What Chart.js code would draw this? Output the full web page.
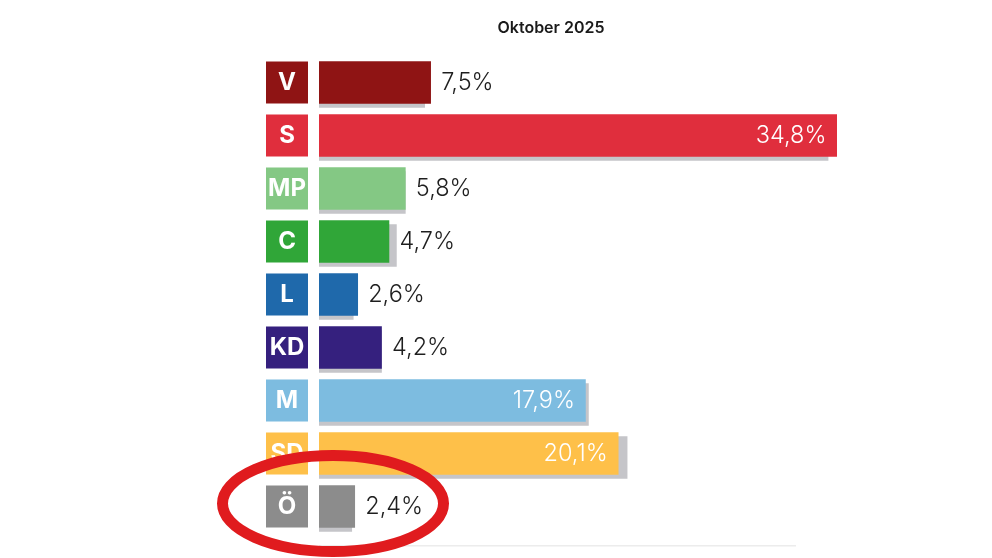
<!DOCTYPE html>
<html lang="sv">
<head>
<meta charset="utf-8">
<style>html,body{margin:0;padding:0;background:#fff}#w{width:992px;height:558px;position:relative}</style>
<script src="https://cdn.jsdelivr.net/npm/chart.js@4"></script>
</head>
<body>
<div id="w"><canvas id="c"></canvas></div>
<script>
const titleText = "Oktober 2025";
const parties = ["V","S","MP","C","L","KD","M","SD","Ö"];
const currentValues = [7.5,34.8,5.8,4.7,2.6,4.2,17.9,20.1,2.4];
const previousValues = [7.1,34.2,5.8,5.2,2.3,4.2,18.1,20.7,2.2];
const partyColors = ["#8f1414","#e02e3d","#84c884","#30a638","#1f69ab","#35207e","#7dbce0","#fec049","#8c8c8c"];
const shadowColor = "#c5c5c9";
const insideThreshold = 10;

const fmt = v => v.toFixed(1).replace(".", ",") + "%";

const decor = {
  id: "decor",
  beforeDraw(chart) {
    const {ctx, scales:{y}} = chart;
    ctx.save();
    parties.forEach((p,i) => {
      ctx.fillStyle = partyColors[i];
      ctx.fillRect(266, y.getPixelForValue(i) - 21, 42, 42);
    });
    ctx.restore();
  },
  beforeDatasetDraw(chart, args) {
    if (args.index === 1) { chart.ctx.save(); chart.ctx.translate(0, 4); }
  },
  afterDatasetDraw(chart, args) {
    if (args.index === 1) chart.ctx.restore();
  },
  afterDraw(chart) {
    const {ctx} = chart;
    const meta = chart.getDatasetMeta(0);
    ctx.save();
    ctx.font = '300 23.5px "Inter", sans-serif';
    ctx.textBaseline = "middle";
    meta.data.forEach((bar,i) => {
      const v = currentValues[i];
      if (v > insideThreshold) {
        ctx.fillStyle = "#ffffff"; ctx.textAlign = "right";
        ctx.fillText(fmt(v), bar.x - 10.5, bar.y);
      } else {
        ctx.fillStyle = "#1e1e1e"; ctx.textAlign = "left";
        ctx.fillText(fmt(v), bar.x + 10.5, bar.y);
      }
    });
    ctx.fillStyle = "#1a1a1a"; ctx.textAlign = "center";
    ctx.font = '600 16px "Inter", sans-serif';
    ctx.fillText(titleText, 551, 28);
    ctx.strokeStyle = "#ececec"; ctx.lineWidth = 1.5;
    ctx.beginPath(); ctx.moveTo(319, 545.7); ctx.lineTo(796, 545.7); ctx.stroke();
    ctx.strokeStyle = "#e01b1e"; ctx.lineWidth = 11;
    ctx.beginPath(); ctx.ellipse(333, 503.5, 110.5, 48, 0, 0, Math.PI*2); ctx.stroke();
    ctx.restore();
  }
};

new Chart(document.getElementById("c"), {
  type: "bar",
  plugins: [decor],
  data: {
    labels: parties,
    datasets: [
      {label:"Oktober 2025", data: currentValues, backgroundColor: partyColors, barThickness: 42, grouped:false},
      {label:"Föregående", data: previousValues, backgroundColor: shadowColor, barThickness: 42, grouped:false}
    ]
  },
  options: {
    indexAxis: "y",
    responsive: true,
    maintainAspectRatio: false,
    animation: false,
    devicePixelRatio: 1,
    layout: {padding: {left: 266, right: 155, top: 56, bottom: 25}},
    plugins: {legend:{display:false}, tooltip:{enabled:false}, title:{display:false}},
    scales: {
      x: {display:false, min:0, max:34.8},
      y: {
        grid:{display:false}, border:{display:false},
        afterFit(s){ s.width = 53; },
        ticks:{color:"#ffffff", crossAlign:"center", padding:5, autoSkip:false, font:{family:'"Inter", sans-serif', weight:"700", size:24}}
      }
    }
  }
});
</script>
</body>
</html>
